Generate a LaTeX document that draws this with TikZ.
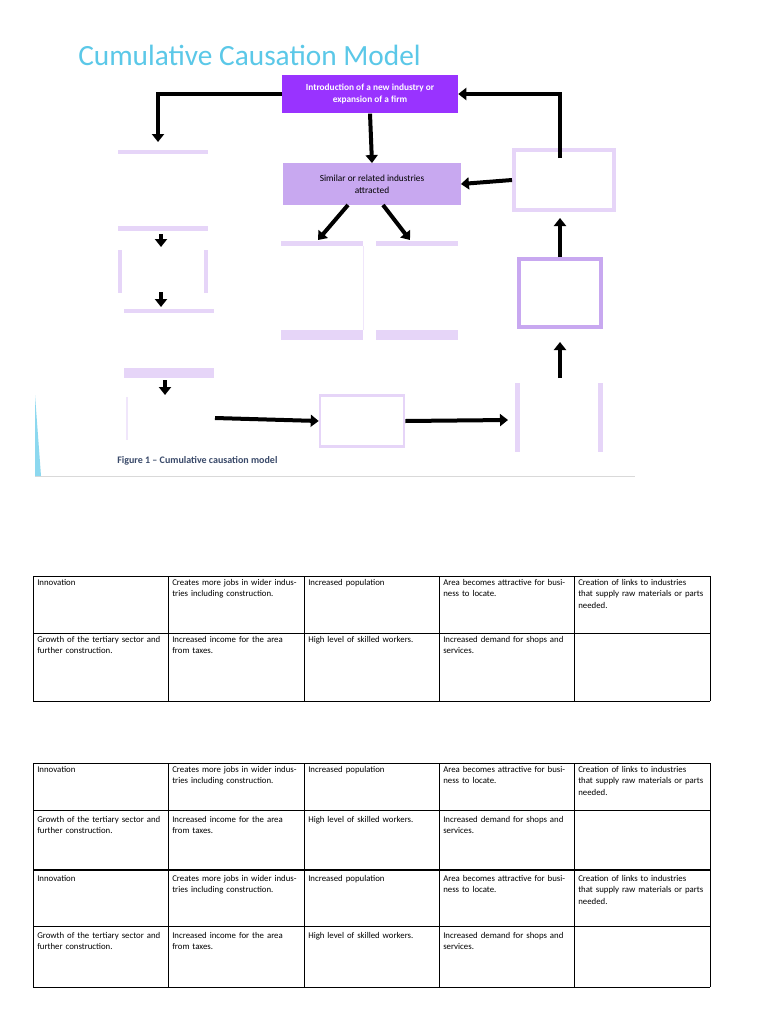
\documentclass[tikz,border=0pt]{standalone}
\usepackage{fontspec}
\setmainfont{Carlito}
\usetikzlibrary{arrows.meta}
\definecolor{ttl}{HTML}{5BC8E8}
\definecolor{dark}{HTML}{9933FF}
\definecolor{mid}{HTML}{C8A8F0}
\definecolor{pale}{HTML}{E6D5F8}
\definecolor{cap}{HTML}{3A4A6A}
\tikzset{
 arr/.style={line width=3pt,-{Triangle[length=6pt,width=9pt]}},
 cell/.style={anchor=north west,text width=98pt,inner sep=0pt,align=left,font=\fontsize{6.6}{8.6}\selectfont},
 bar/.style={fill=pale,draw=none}
}
\begin{document}
\begin{tikzpicture}[x=0.75pt,y=-0.75pt]
\useasboundingbox (0,0) rectangle (768,1024);
\fill[white] (0,0) rectangle (768,1024);
% title and frame
\node[anchor=west,text=ttl,font=\fontsize{22}{24}\selectfont,inner sep=0pt] (title) at (78,55) {Cumulative Causation Model};
\draw[gray!30] (35,476) -- (635,476);
\fill[ttl!70] (35,395) -- (41,476) -- (35,476) -- cycle;
% main boxes
\node[fill=dark,text=white,font=\bfseries\fontsize{7}{9}\selectfont,align=center,minimum width=132pt,minimum height=29pt,inner sep=1pt] (main) at (370,94) {Introduction of a new industry or\\expansion of a firm};
\node[fill=mid,font=\fontsize{7}{9}\selectfont,align=center,minimum width=133pt,minimum height=31pt,inner sep=1pt] (sim) at (372,184) {Similar or related industries\\attracted};
% right column
\node[draw=pale,line width=3pt,minimum width=75pt,minimum height=45pt] (r1) at (564,180) {};
\node[draw=mid,line width=3pt,minimum width=62pt,minimum height=51pt] (r2) at (560,293) {};
\coordinate (r3) at (560,417);
\fill[bar] (515,383) rectangle (520,452);
\fill[bar] (598,383) rectangle (603,452);
% bottom middle
\node[draw=pale,line width=2pt,minimum width=63pt,minimum height=38pt] (b2) at (362,421) {};
% left column
\coordinate (l1) at (163,190);
\fill[bar] (118,150) rectangle (208,154);
\fill[bar] (118,226) rectangle (208,231);
\node[minimum width=67pt,minimum height=31pt] (l2) at (163,271) {};
\fill[bar] (118,250) rectangle (122,293);
\fill[bar] (204,250) rectangle (208,293);
\coordinate (l3) at (168,340);
\fill[bar] (124,309) rectangle (214,313);
\fill[bar] (124,368) rectangle (214,378);
\node[minimum width=65pt,minimum height=32pt] (l4) at (170,418) {};
\fill[pale!60] (126,397) rectangle (128,440);
% middle pair
\node[minimum width=61pt,minimum height=70pt] (m1) at (322,290) {};
\node[minimum width=61pt,minimum height=70pt] (m2) at (417,290) {};
\fill[bar] (281,241) rectangle (363,246);
\fill[bar] (281,330) rectangle (363,340);
\fill[bar] (376,241) rectangle (458,246);
\fill[bar] (376,330) rectangle (458,340);
\draw[pale!60] (363,246) -- (363,330);
% arrows
\draw[arr] (main.west) -| (158,142);
\draw[arr] (main.south) -- (sim.north);
\draw[arr] (560,158) |- (main.east);
\draw[arr] (r1.west) -- (sim.east);
\draw[arr] (348,205) -- (318,240);
\draw[arr] (383,205) -- (410,240);
\draw[arr] (161,234) -- (161,247);
\draw[arr] (161,292) -- (161,307);
\draw[arr] (165,380) -- (165,395);
\draw[arr] (215,418) -- (b2.west);
\draw[arr] (b2.east) -- (508,420);
\draw[arr] (560,378) -- (560,342);
\draw[arr] (r2.north) -- (560,218);
\node[anchor=west,text=cap,font=\bfseries\fontsize{7.5}{9}\selectfont,inner sep=0pt] (capt) at (117,461) {Figure 1 – Cumulative causation model};
% tables
\def\rowA{{"Innovation","Creates more jobs in wider industries including construction.","Increased population","Area becomes attractive for business to locate.","Creation of links to industries that supply raw materials or parts needed."}}
\def\rowB{{"Growth of the tertiary sector and further construction.","Increased income for the area from taxes.","High level of skilled workers.","Increased demand for shops and services.",""}}
\foreach \xx in {33,168,304,439,574,710} {\draw[black,line width=0.6pt] (\xx,576) -- (\xx,701); \draw[black,line width=0.6pt] (\xx,763) -- (\xx,987);}
\foreach \yy in {576,633,701,763,810,926,987} {\draw[black,line width=0.6pt] (33,\yy) -- (710,\yy);}
\draw[black,line width=1.3pt] (33,870) -- (710,870);
\foreach \xx [count=\i from 0] in {37,172,308,443,578} {
  \node[cell] (ta\i) at (\xx,579) {\pgfmathparse{\rowA[\i]}\pgfmathresult};
  \node[cell] (tb\i) at (\xx,636) {\pgfmathparse{\rowB[\i]}\pgfmathresult};
  \node[cell] (tc\i) at (\xx,766) {\pgfmathparse{\rowA[\i]}\pgfmathresult};
  \node[cell] (td\i) at (\xx,816) {\pgfmathparse{\rowB[\i]}\pgfmathresult};
  \node[cell] (te\i) at (\xx,875) {\pgfmathparse{\rowA[\i]}\pgfmathresult};
  \node[cell] (tf\i) at (\xx,932) {\pgfmathparse{\rowB[\i]}\pgfmathresult};
}
\end{tikzpicture}
\end{document}
